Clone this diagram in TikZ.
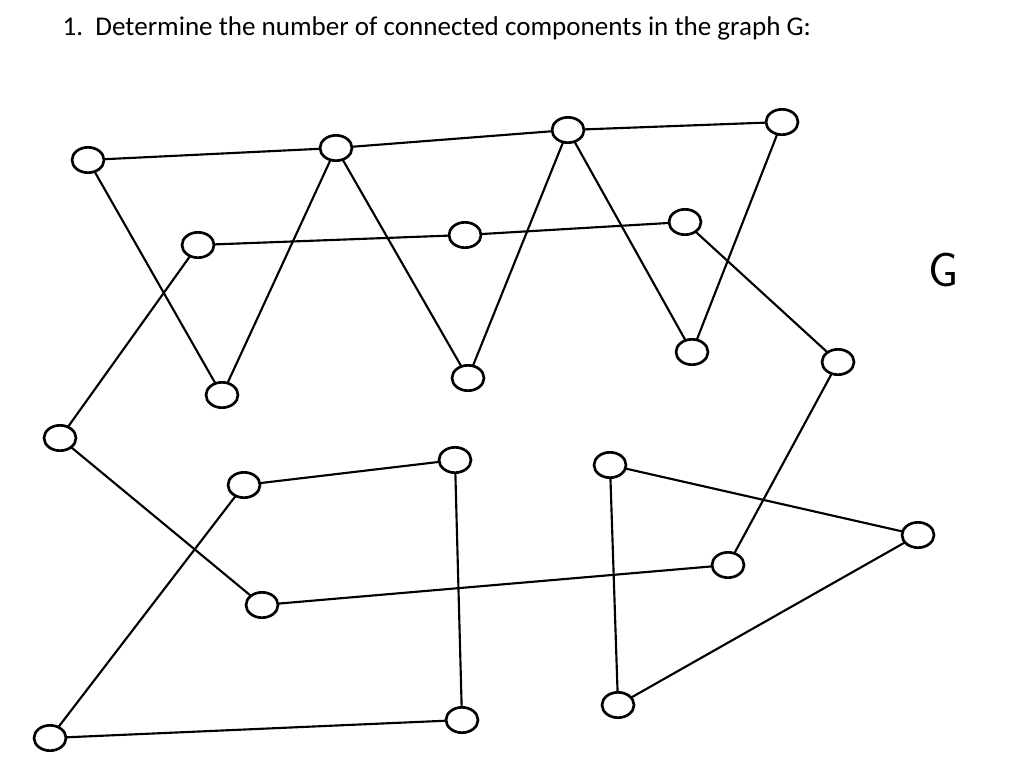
\documentclass[tikz,border=0pt]{standalone}
\usepackage{fontspec}
\setmainfont{Carlito}
\usetikzlibrary{shapes.geometric}
\begin{document}
\begin{tikzpicture}[x=0.75pt,y=-0.75pt,
  vtx/.style={draw,line width=2pt,ellipse,minimum width=24pt,minimum height=19pt,inner sep=0pt,fill=white},
  edge/.style={line width=1.6pt}]
\useasboundingbox (0,0) rectangle (1024,769);
\node[anchor=west,font=\fontsize{20.3}{23}\selectfont] (title) at (58,28) {1.\ \ Determine the number of connected components in the graph G:};
\node[font=\fontsize{36}{40}\selectfont\sffamily] (g) at (944,270) {G};
\foreach \n/\x/\y in {A/88/160,B/336/148,C/568/130,D/782/122,E/198/245,F/465/235,G/685/222,
 H/222/395,I/468/378,J/692/352,K/838/362,L/60/438,M/244/485,N/455/460,O/610/465,P/918/535,
 Q/262/605,R/728/565,S/50/738,T/462/720,U/618/705}
  \coordinate (\n) at (\x,\y);
\foreach \a/\b in {A/B,B/C,C/D,A/H,H/B,B/I,I/C,C/J,J/D,E/F,F/G,G/K,K/R,E/L,L/Q,Q/R,M/N,N/T,M/S,S/T,O/P,O/U,U/P}
  \draw[edge] (\a) -- (\b);
\foreach \n in {A,B,C,D,E,F,G,H,I,J,K,L,M,N,O,P,Q,R,S,T,U}
  \node[vtx] (v\n) at (\n) {};
\end{tikzpicture}
\end{document}
